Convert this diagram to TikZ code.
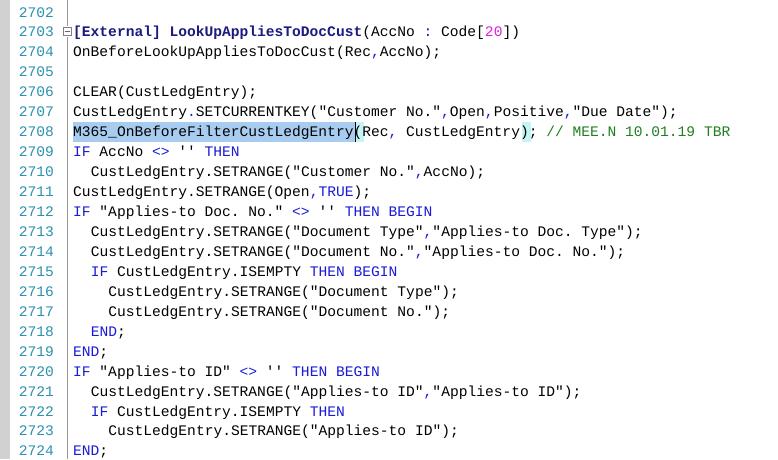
\documentclass[tikz,border=0pt]{standalone}
\usepackage{fontspec}
\setmonofont{Liberation Mono}
\definecolor{kw}{HTML}{1A1AD8}
\definecolor{navy}{HTML}{1A1A80}
\definecolor{mag}{HTML}{E020E0}
\definecolor{cmt}{HTML}{208020}
\definecolor{lnum}{HTML}{2B91AF}
\definecolor{sel}{HTML}{A8CCF0}
\definecolor{par}{HTML}{C4F4F4}
\newcommand{\K}[1]{\textcolor{kw}{#1}}
\newcommand{\C}{\textcolor{kw}{,}}
\begin{document}
\begin{tikzpicture}[x=1pt,y=-1pt,
  code/.style={anchor=base west,inner sep=0pt,font=\ttfamily\fontsize{14.6}{18}\selectfont},
  lno/.style={anchor=base east,inner sep=0pt,text=lnum,font=\ttfamily\fontsize{14.6}{18}\selectfont}]
\useasboundingbox (0,0) rectangle (778,459);
\fill[white] (0,0) rectangle (778,459);
\fill[black!18] (0,0) rectangle (10,459);
% selection & paren highlights
\fill[sel] (73,122) rectangle (355,141.5);
\fill[par] (355,122) rectangle (364,141.5);
\fill[par] (521.8,122) rectangle (530.6,141.5);
\draw[black,line width=0.8pt] (355,122) -- (355,141.5);
% fold line
\draw[black!40] (67,0) -- (67,26);
\draw[black!40] (67,37) -- (67,459);
\node[draw=black!50,minimum size=8pt,inner sep=0pt] (fold) at (67,31.5) {};
\draw[black!60] (64.5,31.5) -- (69.5,31.5);
\foreach \n [count=\i from 0] in {2702,...,2724}{
  \node[lno] (n\n) at (54,{17+19.95*\i}) {\n};
}
\def\Y#1{{17+19.95*#1}}
\node[code] (l1) at (73,\Y{1}) {\textcolor{navy}{\bfseries[External] LookUpAppliesToDocCust}(AccNo \K{:} Code[\textcolor{mag}{20}])};
\node[code] (l2) at (73,\Y{2}) {OnBeforeLookUpAppliesToDocCust(Rec\C AccNo);};
\node[code] (l4) at (73,\Y{4}) {CLEAR(CustLedgEntry);};
\node[code] (l5) at (73,\Y{5}) {CustLedgEntry\K{.}SETCURRENTKEY("Customer No."\C Open\C Positive\C "Due Date");};
\node[code] (l6) at (73,\Y{6}) {M365\_OnBeforeFilterCustLedgEntry(Rec\C{} CustLedgEntry); \textcolor{cmt}{// MEE.N 10.01.19 TBR}};
\node[code] (l7) at (73,\Y{7}) {\K{IF} AccNo \K{<>} '' \K{THEN}};
\node[code] (l8) at (90.6,\Y{8}) {CustLedgEntry.SETRANGE("Customer No."\C AccNo);};
\node[code] (l9) at (73,\Y{9}) {CustLedgEntry.SETRANGE(Open\C\K{TRUE});};
\node[code] (l10) at (73,\Y{10}) {\K{IF} "Applies-to Doc. No." \K{<>} '' \K{THEN BEGIN}};
\node[code] (l11) at (90.6,\Y{11}) {CustLedgEntry.SETRANGE("Document Type"\C"Applies-to Doc. Type");};
\node[code] (l12) at (90.6,\Y{12}) {CustLedgEntry.SETRANGE("Document No."\C"Applies-to Doc. No.");};
\node[code] (l13) at (90.6,\Y{13}) {\K{IF} CustLedgEntry.ISEMPTY \K{THEN BEGIN}};
\node[code] (l14) at (108.2,\Y{14}) {CustLedgEntry.SETRANGE("Document Type");};
\node[code] (l15) at (108.2,\Y{15}) {CustLedgEntry.SETRANGE("Document No.");};
\node[code] (l16) at (90.6,\Y{16}) {\K{END};};
\node[code] (l17) at (73,\Y{17}) {\K{END};};
\node[code] (l18) at (73,\Y{18}) {\K{IF} "Applies-to ID" \K{<>} '' \K{THEN BEGIN}};
\node[code] (l19) at (90.6,\Y{19}) {CustLedgEntry.SETRANGE("Applies-to ID"\C"Applies-to ID");};
\node[code] (l20) at (90.6,\Y{20}) {\K{IF} CustLedgEntry.ISEMPTY \K{THEN}};
\node[code] (l21) at (108.2,\Y{21}) {CustLedgEntry.SETRANGE("Applies-to ID");};
\node[code] (l22) at (73,\Y{22}) {\K{END};};
\end{tikzpicture}
\end{document}
